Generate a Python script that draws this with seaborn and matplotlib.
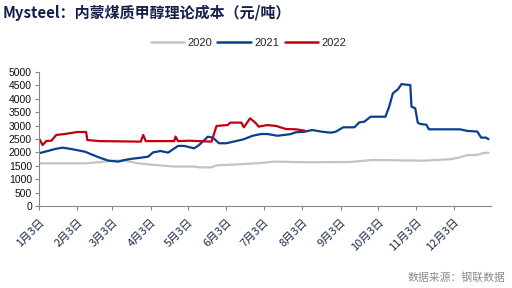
import matplotlib
matplotlib.use("Agg")
import matplotlib.pyplot as plt
import seaborn as sns
import pandas as pd

# ---- data (month-day, value) ----
dates_2020 = ["01-03", "02-09", "02-22", "03-03", "03-13", "03-24", "04-06", "04-22",
              "05-08", "05-12", "05-22", "05-26", "06-14", "06-27", "07-12", "08-06",
              "09-10", "09-29", "11-08", "11-30", "12-08", "12-14", "12-21", "12-26", "12-31"]
values_2020 = [1590, 1590, 1640, 1690, 1690, 1590, 1530, 1470,
               1470, 1440, 1440, 1515, 1555, 1590, 1655, 1630,
               1640, 1715, 1690, 1740, 1815, 1900, 1900, 1965, 1990]

dates_2021 = ["01-03", "01-08", "01-16", "01-22", "01-29", "02-09", "02-14", "02-21", "02-28",
              "03-08", "03-13", "03-18", "03-26", "04-01", "04-05", "04-11", "04-17", "04-21",
              "04-25", "04-30", "05-08", "05-12", "05-19", "05-23", "05-28", "06-03", "06-11",
              "06-17", "06-24", "07-01", "07-06", "07-14", "07-24", "07-29", "08-05", "08-11",
              "08-19", "08-26", "08-30", "09-05", "09-14", "09-18", "09-22", "09-27", "10-09",
              "10-12", "10-15", "10-19", "10-22", "10-26", "10-29", "10-30", "11-02", "11-04",
              "11-06", "11-11", "11-13", "12-08", "12-14", "12-22", "12-25", "12-29", "12-31"]
values_2021 = [1965, 2025, 2125, 2175, 2125, 2025, 1930, 1800, 1690,
               1655, 1715, 1755, 1800, 1840, 2000, 2050, 1990, 2115,
               2240, 2240, 2150, 2275, 2585, 2550, 2340, 2340, 2425,
               2490, 2620, 2685, 2685, 2620, 2675, 2750, 2770, 2835,
               2770, 2735, 2770, 2935, 2935, 3120, 3145, 3330, 3330,
               3705, 4205, 4350, 4550, 4525, 4515, 3705, 3645, 3110,
               3060, 3030, 2860, 2860, 2800, 2775, 2550, 2550, 2490]

dates_2022 = ["01-03", "01-06", "01-09", "01-13", "01-17", "01-24", "02-03", "02-10", "02-11",
              "02-21", "03-26", "03-28", "03-30", "04-22", "04-23", "04-25", "05-04", "05-22",
              "05-26", "06-04", "06-06", "06-15", "06-17", "06-22", "06-26", "06-29", "07-06",
              "07-13", "07-21", "07-29", "08-05"]
values_2022 = [2525, 2275, 2425, 2435, 2650, 2685, 2760, 2760, 2460,
               2420, 2400, 2650, 2420, 2420, 2590, 2420, 2435, 2400,
               2985, 3020, 3110, 3110, 2935, 3270, 3120, 2960, 3020,
               2985, 2870, 2860, 2810]

years = ["2020", "2021", "2022"]
colors = ["#C3C3C3", "#0A3F8F", "#C00010"]
tick_dates = ["01-03", "02-03", "03-03", "04-03", "05-03", "06-03",
              "07-03", "08-03", "09-03", "10-03", "11-03", "12-03"]
tick_labels = ["1月3日", "2月3日", "3月3日", "4月3日", "5月3日", "6月3日",
               "7月3日", "8月3日", "9月3日", "10月3日", "11月3日", "12月3日"]
y_ticks = list(range(0, 5001, 500))

title = "Mysteel：内蒙煤质甲醇理论成本（元/吨）"
source = "数据来源：钢联数据"

# ---- build table ----
frames = []
for yr, d, v in zip(years, [dates_2020, dates_2021, dates_2022],
                    [values_2020, values_2021, values_2022]):
    frames.append(pd.DataFrame({"date": pd.to_datetime(["2021-" + x for x in d]),
                                "value": v, "year": yr}))
df = pd.concat(frames, ignore_index=True)

sns.set_style("white")
plt.rcParams["font.family"] = ["Noto Sans CJK SC", "DejaVu Sans"]

fig = plt.figure(figsize=(5.12, 2.88), dpi=100)
ax = fig.add_axes([0.076, 0.285, 0.883, 0.465])

sns.lineplot(data=df, x="date", y="value", hue="year", hue_order=years,
             palette=dict(zip(years, colors)), linewidth=1.6, legend=False,
             estimator=None, ax=ax)

ax.set_xlim(pd.Timestamp("2021-01-03"), pd.Timestamp("2022-01-02"))
ax.set_ylim(0, 5000)
ax.set_yticks(y_ticks)
ax.set_yticklabels([str(t) for t in y_ticks], fontsize=7.5, color="#111111",
                   family=["Liberation Sans", "DejaVu Sans"])
ax.set_xticks(pd.to_datetime(["2021-" + t for t in tick_dates]))
ax.set_xticklabels(tick_labels, rotation=45, ha="right", rotation_mode="anchor",
                   fontsize=8, color="#1a2a4a")
ax.set_xlabel("")
ax.set_ylabel("")
ax.tick_params(axis="both", direction="out", length=3, width=0.8, color="#888888",
               left=True, bottom=True)
ax.tick_params(axis="y", pad=2)
ax.tick_params(axis="x", pad=5)
for s in ["top", "right"]:
    ax.spines[s].set_visible(False)
for s in ["left", "bottom"]:
    ax.spines[s].set_color("#888888")
    ax.spines[s].set_linewidth(0.8)

handles = [plt.Line2D([], [], color=c, linewidth=1.8) for c in colors]
fig.legend(handles, years, loc="center", bbox_to_anchor=(0.485, 0.85), ncol=3,
           frameon=False, handlelength=3.0, handletextpad=0.3, columnspacing=0.5,
           prop={"family": ["Liberation Sans", "DejaVu Sans"], "size": 8})

fig.text(0.005, 0.955, title, fontsize=10.8, fontweight="bold", color="#15204a",
         ha="left", va="center")
fig.text(0.988, 0.035, source, fontsize=7.8, color="#8a8a8a", style="italic",
         ha="right", va="center")

fig.savefig("out.png", dpi=100)
